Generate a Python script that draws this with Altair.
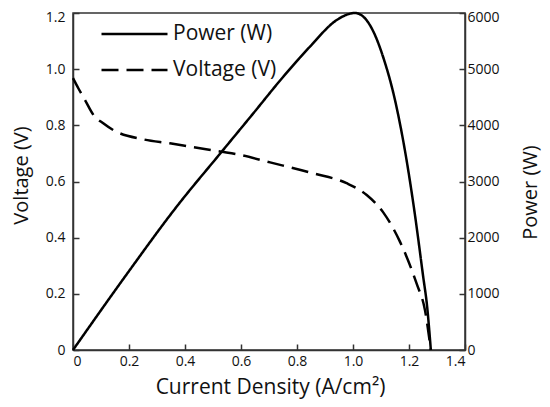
import altair as alt
import pandas as pd

# ---- data ----
power_I = [0, 0.192, 0.37, 0.531, 0.644, 0.751, 0.846, 0.942, 0.995, 1.007,
           1.04, 1.073, 1.11, 1.15, 1.19, 1.22, 1.25, 1.265, 1.278]
power_W = [0, 1350, 2551, 3530, 4214, 4866, 5400, 5875, 5994, 6000,
           5920, 5667, 5180, 4450, 3420, 2450, 1330, 760, 0]

volt_I = [0, 0.019, 0.043, 0.073, 0.108, 0.144, 0.251, 0.346, 0.43, 0.531, 0.60,
          0.704, 0.858, 0.977, 1.049, 1.108, 1.168, 1.227, 1.257, 1.278]
volt_V = [0.968, 0.932, 0.89, 0.837, 0.807, 0.783, 0.750, 0.736, 0.722, 0.706, 0.694,
          0.668, 0.629, 0.594, 0.552, 0.49, 0.385, 0.237, 0.142, 0]

x_ticks = [0, 0.2, 0.4, 0.6, 0.8, 1.0, 1.2, 1.4]
v_ticks = [0, 0.2, 0.4, 0.6, 0.8, 1.0, 1.2]
p_ticks = [0, 1000, 2000, 3000, 4000, 5000, 6000]
series_names = ["Power (W)", "Voltage (V)"]

power_df = pd.DataFrame({"I": power_I, "val": power_W, "series": series_names[0]})
volt_df = pd.DataFrame({"I": volt_I, "val": volt_V, "series": series_names[1]})

FONT = "Open Sans"
AX = "#333333"
TXT = "#111111"
fmt1 = "datum.value == 0 ? '0' : format(datum.value, '.1f')"

W, H = 392, 337

xscale = alt.Scale(domain=[0, 1.4], nice=False, zero=False)
vscale = alt.Scale(domain=[0, 1.2], nice=False)
pscale = alt.Scale(domain=[0, 6000], nice=False)

dash = alt.StrokeDash(
    "series:N",
    scale=alt.Scale(domain=series_names, range=[[1, 0], [17, 8]]),
    legend=alt.Legend(
        title=None, orient="none", legendX=27, legendY=6, padding=0,
        symbolType="stroke", symbolSize=4356, symbolStrokeWidth=2.5,
        symbolStrokeColor="black", clipHeight=30, rowPadding=6,
        labelFont=FONT, labelFontSize=21, labelColor=TXT, labelOffset=4,
    ),
)

volt_line = alt.Chart(volt_df).mark_line(
    color="black", strokeWidth=2.5, interpolate="monotone"
).encode(
    x=alt.X("I:Q", scale=xscale, axis=alt.Axis(
        orient="bottom", values=x_ticks, labelExpr=fmt1, ticks=False,
        labelPadding=4, title="Current Density (A/cm²)",
        titleX=197, titleY=37, titleAlign="center", titleBaseline="middle")),
    y=alt.Y("val:Q", scale=vscale, axis=alt.Axis(
        orient="left", values=v_ticks, labelExpr=fmt1, ticks=False,
        labelPadding=8,
        labelOffset={"condition": {"test": "datum.value == 1.2", "value": 4}, "value": 0},
        title="Voltage (V)", titleAngle=270, titleFontSize=20,
        titleX=-52, titleY=162, titleAlign="center", titleBaseline="middle")),
    strokeDash=dash,
)

power_line = alt.Chart(power_df).mark_line(
    color="black", strokeWidth=2.5, interpolate="monotone"
).encode(
    x=alt.X("I:Q", scale=xscale, axis=alt.Axis(
        orient="top", offset=-H, values=x_ticks, labels=False, domain=False,
        ticks=True, tickSize=6, title=None)),
    y=alt.Y("val:Q", scale=pscale, axis=alt.Axis(
        orient="right", values=p_ticks, format="d", ticks=False,
        labelPadding=2,
        labelOffset={"condition": {"test": "datum.value == 6000", "value": 4}, "value": 0},
        title="Power (W)", titleAngle=270, titleFontSize=20,
        titleX=65, titleY=179, titleAlign="center", titleBaseline="middle")),
    strokeDash=dash,
)

volt_ticks = alt.Chart(volt_df).mark_line(opacity=0).encode(
    x=alt.X("I:Q", scale=xscale, axis=None),
    y=alt.Y("val:Q", scale=vscale, axis=alt.Axis(
        orient="right", offset=-W, values=v_ticks, labels=False, domain=False,
        ticks=True, tickSize=6, title=None)),
)

power_ticks = alt.Chart(power_df).mark_line(opacity=0).encode(
    x=alt.X("I:Q", scale=xscale, axis=None),
    y=alt.Y("val:Q", scale=pscale, axis=alt.Axis(
        orient="left", offset=-W, values=p_ticks, labels=False, domain=False,
        ticks=True, tickSize=6, title=None)),
)

chart = alt.layer(volt_line, power_line, volt_ticks, power_ticks).resolve_scale(
    y="independent"
).resolve_axis(
    x="independent", y="independent"
).properties(
    width=W, height=H,
    autosize=alt.AutoSizeParams(type="none"),
    padding={"left": 65, "top": 5, "right": 77, "bottom": 49},
).configure_axis(
    labelFont=FONT, titleFont=FONT, labelFontSize=14, titleFontSize=21,
    titleFontWeight="normal", labelColor=TXT, titleColor=TXT,
    domainColor=AX, domainWidth=1.5, tickColor=AX, tickWidth=1.5, grid=False,
).configure_view(
    stroke=AX, strokeWidth=1.5
)

chart.save("out.html", embed_options={"renderer": "svg", "actions": False})
